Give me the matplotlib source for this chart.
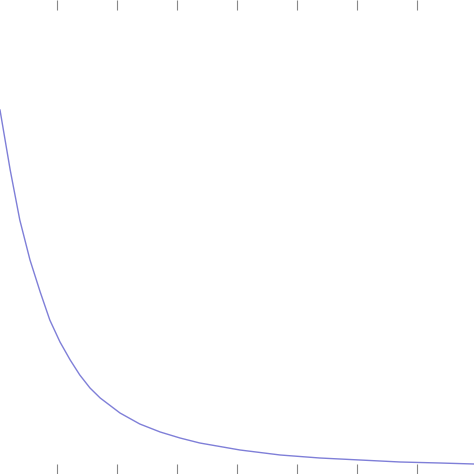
import matplotlib
matplotlib.use("Agg")
import matplotlib.pyplot as plt

x_vals = [0.05, 0.22, 0.38, 0.55, 0.72, 0.88, 1.05, 1.22, 1.38, 1.55, 1.72, 2.05, 2.38, 2.72, 3.05, 3.38, 4.05, 4.72, 5.38, 6.05, 6.72, 7.38, 7.95]
y_vals = [364, 304, 254, 214, 182, 154, 132, 114, 99, 86, 76, 61, 50, 42, 36, 31, 24, 19, 16, 14, 12, 11, 10]
x_ticks = [1, 2, 3, 4, 5, 6, 7]

fig = plt.figure(figsize=(4.74, 4.74), dpi=100)
ax = fig.add_axes([0, 0, 1, 1])
ax.plot(x_vals, y_vals, color="#7f7fd8", lw=1.0)
ax.set_xlim(0.05, 7.95)
ax.set_ylim(0, 474)
ax.set_xticks(x_ticks)
ax.set_yticks([])
ax.tick_params(axis="x", direction="in", top=True, bottom=True, length=7, color="#888888",
               labelbottom=False, labeltop=False)
for s in ax.spines.values():
    s.set_visible(False)
fig.savefig("out.png", dpi=100)
